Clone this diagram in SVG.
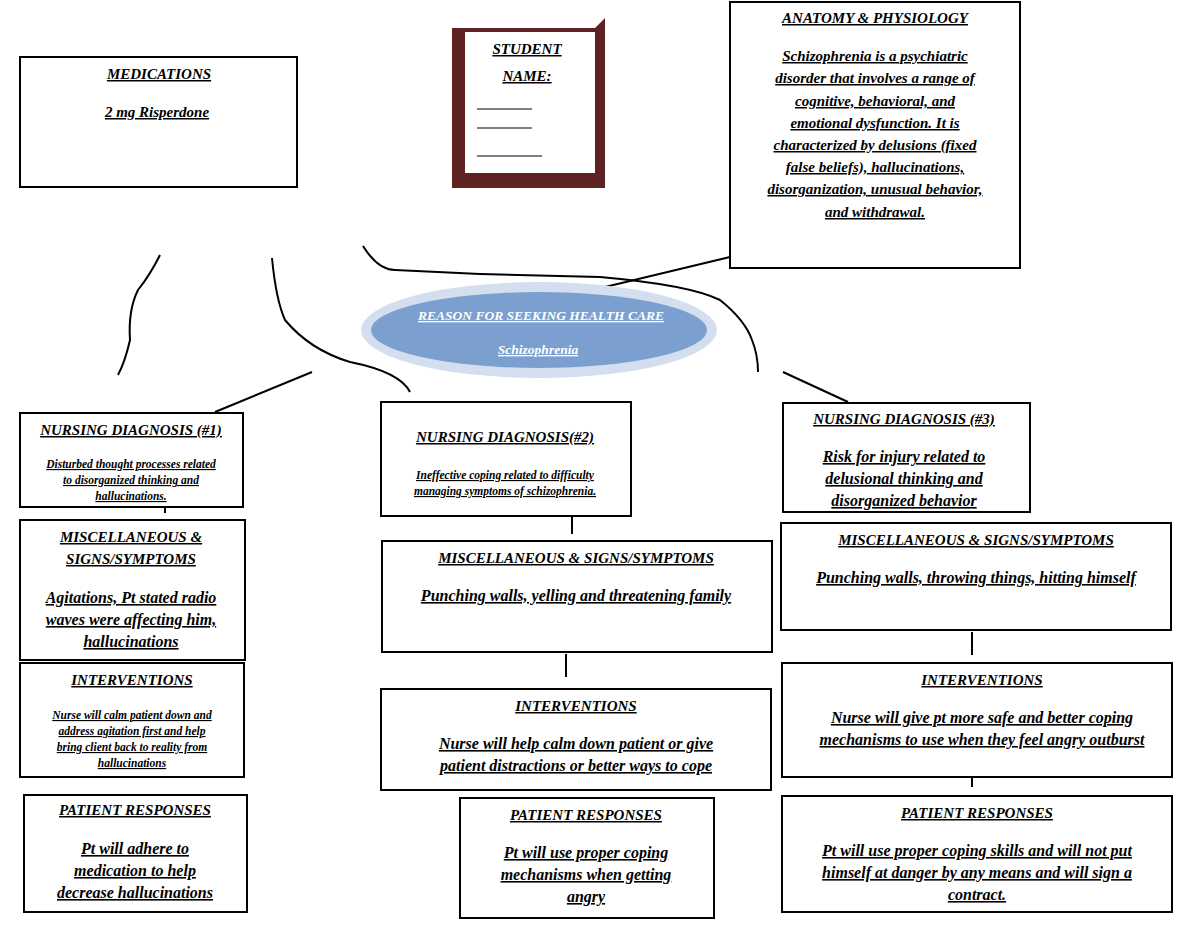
<svg xmlns="http://www.w3.org/2000/svg" width="1200" height="927" viewBox="0 0 1200 927">
<style>
.b{fill:#fff;stroke:#000;stroke-width:2}
text{font-family:"Liberation Serif","DejaVu Serif",serif;font-weight:bold;font-style:italic;text-decoration:underline;text-anchor:middle;fill:#000}
.h{font-size:15px}.m{font-size:16px}.s{font-size:11.5px}
.c{fill:none;stroke:#000;stroke-width:2}
</style>
<rect width="1200" height="927" fill="#fff"/>
<g id="connectors">
<path class="c" d="M160 255 Q150 275 138 290 Q128 310 130 340 Q125 362 118 375"/>
<path class="c" d="M272 258 Q276 300 285 320 Q310 350 350 362 Q400 372 410 392"/>
<path class="c" d="M363 246 Q378 270 395 270 L480 274 L600 277 Q690 285 720 300 Q745 320 752 340 Q758 355 758 372"/>
<path class="c" d="M215 412 L312 372 M605 287 L730 257 M783 372 L848 402"/>
<path class="c" d="M165 500 V513 M172 632 V656 M166 757 V770 M572 517 V534 M566 654 V677 M972 632 V655 M972 771 V787 M1000 484 V495"/>
</g>
<g id="medications"><rect class="b" x="20" y="57" width="277" height="130"/>
<text class="h" x="159" y="79">MEDICATIONS</text><text class="h" x="157" y="117">2 mg Risperdone </text></g>
<g id="student"><polygon points="452,28 595,28 605,18 605,188 452,188" fill="#5e2222"/>
<rect x="465" y="32" width="130" height="141" fill="#fff"/>
<text class="h" x="527" y="54">STUDENT</text><text class="h" x="527" y="81">NAME:</text>
<path d="M477 109 H532 M477 128 H532 M477 156 H542" stroke="#000" stroke-width="1"/></g>
<g id="anatomy"><rect class="b" x="730" y="2" width="290" height="266"/>
<text class="h" x="875" y="23">ANATOMY &amp; PHYSIOLOGY</text>
<text class="h" x="875" y="61">Schizophrenia is a psychiatric</text>
<text class="h" x="875" y="83">disorder that involves a range of</text>
<text class="h" x="875" y="106">cognitive, behavioral, and</text>
<text class="h" x="875" y="128">emotional dysfunction. It is</text>
<text class="h" x="875" y="150">characterized by delusions (fixed</text>
<text class="h" x="875" y="172">false beliefs), hallucinations,</text>
<text class="h" x="875" y="194">disorganization, unusual behavior,</text>
<text class="h" x="875" y="217">and withdrawal. </text></g>
<g id="reason"><ellipse cx="539" cy="330" rx="178" ry="48" fill="#d3deee"/>
<ellipse cx="539" cy="330" rx="168" ry="38" fill="#7ba0cf"/>
<text x="541" y="320" style="font-size:13.5px;fill:#fff">REASON FOR SEEKING HEALTH CARE</text>
<text x="538" y="354" style="font-size:13.5px;fill:#fff">Schizophrenia </text></g>
<g id="nd1"><rect class="b" x="20" y="413" width="223" height="94"/>
<text class="h" x="131" y="435">NURSING DIAGNOSIS (#1)</text>
<text class="s" x="131" y="468">Disturbed thought processes related</text>
<text class="s" x="131" y="484">to disorganized thinking and</text>
<text class="s" x="131" y="500">hallucinations.</text></g>
<g id="nd2"><rect class="b" x="381" y="402" width="250" height="114"/>
<text class="h" x="505" y="442">NURSING DIAGNOSIS(#2)</text>
<text class="s" x="505" y="479">Ineffective coping related to difficulty</text>
<text class="s" x="505" y="495">managing symptoms of schizophrenia.</text></g>
<g id="nd3"><rect class="b" x="783" y="403" width="247" height="109"/>
<text class="h" x="904" y="424">NURSING DIAGNOSIS (#3)</text>
<text class="m" x="904" y="462">Risk for injury related to</text>
<text class="m" x="904" y="484">delusional thinking and</text>
<text class="m" x="904" y="506">disorganized behavior</text></g>
<g id="misc1"><rect class="b" x="20" y="520" width="225" height="140"/>
<text class="h" x="131" y="542">MISCELLANEOUS &amp;</text>
<text class="h" x="131" y="564">SIGNS/SYMPTOMS</text>
<text class="m" x="131" y="603">Agitations, Pt stated radio</text>
<text class="m" x="131" y="625">waves were affecting him,</text>
<text class="m" x="131" y="647">hallucinations</text></g>
<g id="misc2"><rect class="b" x="382" y="541" width="390" height="111"/>
<text class="h" x="576" y="563">MISCELLANEOUS &amp; SIGNS/SYMPTOMS</text>
<text class="m" x="576" y="601">Punching walls, yelling and threatening family</text></g>
<g id="misc3"><rect class="b" x="781" y="523" width="390" height="107"/>
<text class="h" x="976" y="545">MISCELLANEOUS &amp; SIGNS/SYMPTOMS</text>
<text class="m" x="976" y="583">Punching walls, throwing things, hitting himself</text></g>
<g id="int1"><rect class="b" x="20" y="663" width="224" height="114"/>
<text class="h" x="132" y="685">INTERVENTIONS</text>
<text class="s" x="132" y="719">Nurse will calm patient down and</text>
<text class="s" x="132" y="735">address agitation first and help</text>
<text class="s" x="132" y="751">bring client back to reality from</text>
<text class="s" x="132" y="767">hallucinations</text></g>
<g id="int2"><rect class="b" x="381" y="689" width="390" height="101"/>
<text class="h" x="576" y="711">INTERVENTIONS</text>
<text class="m" x="576" y="749">Nurse will help calm down patient or give</text>
<text class="m" x="576" y="771">patient distractions or better ways to cope</text></g>
<g id="int3"><rect class="b" x="782" y="663" width="390" height="114"/>
<text class="h" x="982" y="685">INTERVENTIONS</text>
<text class="m" x="982" y="723">Nurse will give pt more safe and better coping</text>
<text class="m" x="982" y="745">mechanisms to use when they feel angry outburst </text></g>
<g id="pr1"><rect class="b" x="24" y="795" width="223" height="117"/>
<text class="h" x="135" y="815">PATIENT RESPONSES</text>
<text class="m" x="135" y="854">Pt will adhere to</text>
<text class="m" x="135" y="876">medication to help</text>
<text class="m" x="135" y="898">decrease hallucinations</text></g>
<g id="pr2"><rect class="b" x="460" y="798" width="254" height="120"/>
<text class="h" x="586" y="820">PATIENT RESPONSES</text>
<text class="m" x="586" y="858">Pt will use proper coping</text>
<text class="m" x="586" y="880">mechanisms when getting</text>
<text class="m" x="586" y="902">angry </text></g>
<g id="pr3"><rect class="b" x="782" y="796" width="390" height="116"/>
<text class="h" x="977" y="818">PATIENT RESPONSES</text>
<text class="m" x="977" y="856">Pt will use proper coping skills and will not put</text>
<text class="m" x="977" y="878">himself at danger by any means  and will sign a</text>
<text class="m" x="977" y="900">contract. </text></g>
</svg>
